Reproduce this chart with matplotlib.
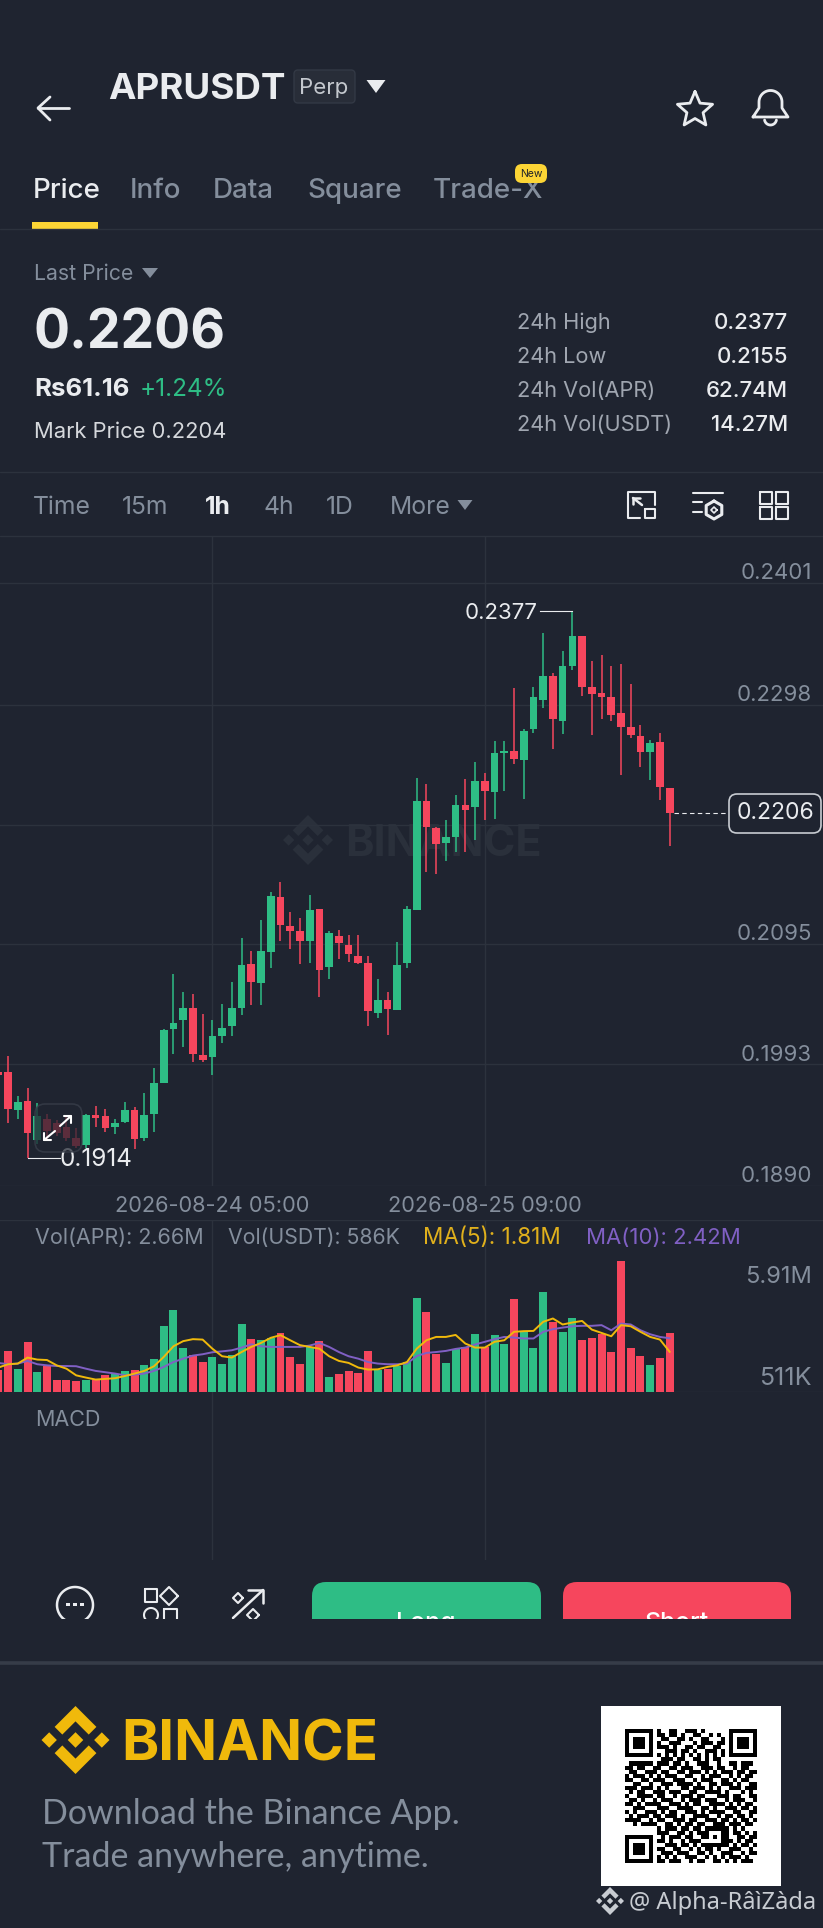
import numpy as np
import matplotlib
matplotlib.use("Agg")
import matplotlib.pyplot as plt
from matplotlib.patches import Rectangle, Polygon, FancyBboxPatch

opens = [.1987,.1987,.1954,.1962,.1929,.1947,.1943,.1940,.1931,.1925,.1950,.1949,.1940,.1944,.1954,.1931,.1951,.1977,.2023,.2031,
         .2041,.2001,.1999,.2017,.2026,.2041,.2078,.2062,.2088,.2135,.2110,.2106,.2098,.2125,.2076,.2102,.2094,.2085,.2079,.2037,
         .2048,.2039,.2079,.2124,.2216,.2193,.2181,.2186,.2213,.2211,.2233,.2224,.2257,.2259,.2251,.2277,.2302,.2322,.2284,.2331,
         .2356,.2313,.2308,.2304,.2291,.2279,.2271,.2258,.2266,.2227]
highs = [.1988,.2000,.1966,.1973,.1960,.1951,.1946,.1949,.1939,.1951,.1958,.1955,.1947,.1961,.1957,.1969,.1990,.2023,.2070,.2054,
         .2053,.2036,.2031,.2044,.2063,.2100,.2089,.2115,.2139,.2148,.2122,.2117,.2137,.2125,.2106,.2107,.2103,.2103,.2085,.2065,
         .2054,.2097,.2127,.2236,.2231,.2194,.2200,.2221,.2235,.2249,.2240,.2267,.2267,.2312,.2277,.2313,.2359,.2325,.2343,.2377,
         .2356,.2335,.2340,.2331,.2332,.2315,.2281,.2268,.2274,.2227]
lows = [.1983,.1943,.1947,.1914,.1926,.1929,.1932,.1928,.1922,.1922,.1940,.1936,.1934,.1943,.1921,.1928,.1936,.1977,.2002,.2008,
        .1995,.1995,.1984,.2011,.2017,.2035,.2043,.2043,.2075,.2098,.2091,.2078,.2079,.2050,.2065,.2082,.2080,.2078,.2026,.2032,
        .2018,.2039,.2075,.2124,.2156,.2154,.2165,.2173,.2173,.2183,.2200,.2201,.2225,.2248,.2218,.2274,.2295,.2260,.2273,.2327,
        .2305,.2272,.2286,.2284,.2238,.2270,.2245,.2234,.2217,.2178]
closes = [.1984,.1955,.1961,.1935,.1949,.1937,.1935,.1931,.1924,.1950,.1948,.1939,.1943,.1954,.1930,.1950,.1977,.2022,.2028,.2041,
          .2002,.1997,.2017,.2024,.2041,.2077,.2063,.2089,.2136,.2111,.2106,.2098,.2124,.2073,.2104,.2096,.2087,.2079,.2038,.2048,
          .2040,.2077,.2125,.2216,.2194,.2180,.2186,.2213,.2209,.2233,.2225,.2257,.2259,.2252,.2276,.2304,.2322,.2286,.2331,.2356,
          .2313,.2307,.2304,.2289,.2279,.2272,.2258,.2265,.2228,.2206]

# volume in millions
volumes = [0.98,1.85,1.05,2.24,0.92,1.17,0.56,0.56,0.51,0.53,0.56,0.75,0.80,0.95,1.01,1.23,1.50,2.96,3.68,1.98,
           1.68,1.34,1.56,1.26,1.65,3.05,2.38,2.33,2.41,2.66,1.58,1.26,2.03,2.30,0.66,0.80,0.93,0.86,1.86,0.98,
           1.05,1.17,1.35,4.23,3.61,1.73,1.31,1.94,2.03,2.63,2.03,2.57,2.18,4.18,2.71,1.97,4.50,3.16,2.68,3.31,
           2.35,2.45,2.63,1.80,5.91,1.97,1.62,1.22,1.55,2.66]
ma5 = [1.10,1.25,1.28,1.55,1.46,1.44,1.20,1.05,0.75,0.65,0.56,0.59,0.62,0.72,0.83,0.95,1.16,1.58,2.06,2.29,
       2.38,2.36,1.95,1.61,1.55,1.80,2.03,2.21,2.44,2.56,2.33,2.11,2.03,1.95,1.61,1.40,1.31,1.10,1.01,1.02,
       1.13,1.20,1.35,1.95,2.33,2.48,2.48,2.57,2.18,2.00,2.00,2.26,2.33,2.71,2.74,2.75,3.16,3.31,3.04,3.13,
       3.20,2.81,2.66,2.51,3.01,2.96,2.71,2.48,2.36,1.81]
ma10 = [1.31,1.25,1.28,1.40,1.25,1.20,1.17,1.17,1.16,1.05,0.95,0.89,0.83,0.75,0.78,0.83,0.95,1.13,1.35,1.50,
        1.64,1.70,1.79,1.83,1.88,2.00,2.15,2.06,2.03,2.03,2.03,2.03,2.09,2.21,2.03,1.80,1.61,1.50,1.35,1.28,
        1.25,1.25,1.28,1.62,1.76,1.80,1.85,1.94,2.00,2.14,2.26,2.38,2.48,2.45,2.41,2.41,2.71,2.83,2.90,2.96,
        2.98,2.98,3.01,2.78,3.08,3.04,2.78,2.60,2.48,2.42]

price_ticks = [0.2401, 0.2298, 0.2196, 0.2095, 0.1993, 0.1890]
price_tick_labels = ["0.2401", "0.2298", "", "0.2095", "0.1993", "0.1890"]
date_idx = [22, 50]
date_labels = ["2026-08-24 05:00", "2026-08-25 09:00"]
stat_names = ["24h High", "24h Low", "24h Vol(APR)", "24h Vol(USDT)"]
stat_values = ["0.2377", "0.2155", "62.74M", "14.27M"]
last_price = 0.2206
high_price = 0.2377
low_price = 0.1914

BG = "#1f2430"
GRID = "#2c323d"
GREEN = "#2ebd85"
RED = "#f6465d"
GRAY = "#848e9c"
LIGHT = "#eaecef"
YELLOW = "#f0b90b"
PURPLE = "#8060c4"
W, H = 823, 1928
plt.rcParams["font.family"] = ["Inter", "DejaVu Sans"]

fig = plt.figure(figsize=(W / 100, H / 100), dpi=100, facecolor=BG)


def pane(top, bottom):
    # axes placed by pixel rows of the screenshot
    a = fig.add_axes([0, 1 - bottom / H, 1, (bottom - top) / H], facecolor="none")
    a.set_xlim(0.17, 84.76)
    a.set_xticks(date_idx)
    a.tick_params(length=0, labelbottom=False, labelleft=False)
    a.grid(True, color=GRID, lw=1)
    a.set_axisbelow(True)
    for s in a.spines.values():
        s.set_visible(False)
    return a


back = fig.add_axes([0, 0, 1, 1], facecolor="none", zorder=0)
back.set_xlim(0, W); back.set_ylim(H, 0); back.axis("off")
ax = pane(537, 1186); ax.set_zorder(1)
vol = pane(1220, 1392); vol.set_zorder(1)
macd = pane(1392, 1560); macd.set_zorder(1)
ui = fig.add_axes([0, 0, 1, 1], facecolor="none", zorder=2)
ui.set_xlim(0, W); ui.set_ylim(H, 0); ui.axis("off")


def logo(a, cx, cy, size, color, z=3):
    s = size / 126.6
    parts = [
        [(38.73, 53.2), (63.32, 28.62), (87.92, 53.22), (102.22, 38.91), (63.32, 0), (24.43, 38.9)],
        [(0, 63.31), (14.3, 49), (28.61, 63.31), (14.3, 77.61)],
        [(38.73, 73.41), (63.32, 98), (87.92, 73.4), (102.23, 87.69), (63.33, 126.6), (24.42, 87.72)],
        [(98, 63.31), (112.3, 49), (126.61, 63.3), (112.3, 77.62)],
        [(77.83, 63.3), (63.32, 48.78), (48.81, 63.28), (63.32, 77.78)],
    ]
    for p in parts:
        pts = [(cx + (x - 63.3) * s, cy + (y - 63.3) * s) for x, y in p]
        a.add_patch(Polygon(pts, closed=True, fc=color, ec="none", zorder=z))


# watermark sits under the candles
logo(back, 308, 840, 50, "#2a303b")
back.text(345, 844, "BINANCE", fontsize=31, fontweight="bold", color="#2a303b", va="center", ha="left")

# candles
x = np.arange(len(closes))
o, h, l, c = map(np.array, (opens, highs, lows, closes))
colors = [GREEN if c[i] >= o[i] else RED for i in x]
ax.vlines(x, l, h, colors=colors, lw=1.1, zorder=3)
ax.bar(x, np.abs(c - o), bottom=np.minimum(o, c), width=0.79, color=colors, zorder=3)
ax.set_ylim(0.1890, 0.2440)
ax.set_yticks(price_ticks)
for v, s in zip(price_ticks, price_tick_labels):
    ax.annotate(s, xy=(1, v), xycoords=ax.get_yaxis_transform(), xytext=(-8, 7), textcoords="offset points",
                ha="right", va="center", fontsize=16, color=GRAY)

# high / low / last price marks
ax.plot([59 - 3.3, 59], [high_price] * 2, color=LIGHT, lw=0.8, zorder=4)
ax.annotate("0.2377", xy=(55.6, high_price), xytext=(-1, -1.5), textcoords="offset points",
            ha="right", va="center", fontsize=16, color=LIGHT, zorder=5)
ax.plot([3, 6.3], [low_price] * 2, color=LIGHT, lw=0.8, zorder=4)
ax.annotate("0.1914", xy=(6.3, low_price), xytext=(0, -1.5), textcoords="offset points",
            ha="left", va="center", fontsize=17.5, color=LIGHT, zorder=5)
ax.hlines(last_price, 69.4, 75, colors=LIGHT, lw=0.8, linestyles=(0, (4, 3)), zorder=4)

# volume
vol.bar(x, volumes, width=0.82, color=colors, zorder=3)
vol.plot(x, ma10, color=PURPLE, lw=1.4, zorder=4)
vol.plot(x, ma5, color=YELLOW, lw=1.4, zorder=5)
vol.set_ylim(0, 7.745)
vol.set_yticks([0, 7.745])
macd.set_ylim(0, 1)
macd.set_yticks([])


def T(px, py, s, size, color=GRAY, ha="left", weight="normal", **kw):
    # va=center sits a bit high because of the descender room
    return ui.text(px, py + size * 0.14, s, fontsize=size, color=color, ha=ha, va="center", fontweight=weight, **kw)


def L(xs, ys, color=LIGHT, lw=1.5, z=3):
    ui.plot(xs, ys, color=color, lw=lw, solid_capstyle="round", solid_joinstyle="round", zorder=z)


def tri(cx, top, bot, half, color):
    ui.add_patch(Polygon([(cx - half, top), (cx + half, top), (cx, bot)], fc=color, ec="none"))


def ring(cx, cy, r, t0=0, t1=360, **kw):
    t = np.radians(np.linspace(t0, t1, 60))
    L(cx + r * np.cos(t), cy - r * np.sin(t), **kw)


def box(x0, y0, x1, y1, **kw):
    L([x0, x1, x1, x0, x0], [y0, y0, y1, y1, y0], **kw)


def rbox(x0, y0, x1, y1, rad, fc, ec="none", lw=1, alpha=None, z=2):
    ui.add_patch(FancyBboxPatch((x0 + rad, y0 + rad), x1 - x0 - 2 * rad, y1 - y0 - 2 * rad,
                                boxstyle=f"round,pad={rad}", fc=fc, ec=ec, lw=lw, alpha=alpha, zorder=z))


# header
L([38, 69], [108, 108], lw=2); L([50, 38, 50], [97, 108, 120], lw=2)
T(108, 86, "APRUSDT", 26.5, LIGHT, weight="bold")
rbox(294, 70, 355, 103, 4, "#282d38", "#333945")
T(324, 86, "Perp", 16, "#c4c8ce", ha="center")
tri(376, 80, 93, 9.5, LIGHT)
ang = np.radians(90 + 36 * np.arange(11))
rad = np.where(np.arange(11) % 2 == 0, 18.5, 8.5)
L(695 + rad * np.cos(ang), 110 - rad * np.sin(ang), lw=2)
t = np.radians(np.linspace(180, 0, 30))
L(np.r_[753, 759, 770.5 + 11.5 * np.cos(t), 782, 788, 753], np.r_[117, 108, 102 - 11.5 * np.sin(t), 108, 117, 117], lw=2)
ring(770.5, 119, 6, 190, 350, lw=2)

tabs = [("Price", 33, LIGHT), ("Info", 130, GRAY), ("Data", 213, GRAY), ("Square", 307, GRAY), ("Trade-X", 433, GRAY)]
for s, px, col in tabs:
    T(px, 188, s, 20, col, weight="medium")
ui.add_patch(Rectangle((32, 222), 66, 7, fc="#fcd535", ec="none"))
rbox(515, 164, 547, 183, 7, "#fcd535", z=3)
T(531, 172.5, "New", 7.5, "#1e2329", ha="center", zorder=4)
for yy in (229, 472, 536):
    L([0, W], [yy, yy], GRID, 1, z=1)

T(34, 272, "Last Price", 15.3, GRAY)
tri(150, 268, 278, 8, GRAY)
T(34, 329, "0.2206", 38.5, LIGHT, weight="bold")
T(34, 387, "Rs61.16", 18.5, LIGHT, weight="bold")
T(140, 387, "+1.24%", 17.5, GREEN)
T(34, 430, "Mark Price 0.2204", 15.8, "#d5d8dc")
for i, yy in enumerate((321, 355, 389, 423)):
    T(517, yy, stat_names[i], 15.7, "#a0a6b0")
    T(788, yy, stat_values[i], 16, LIGHT, ha="right", weight="medium")

frames = [("Time", 33), ("15m", 122), ("1h", 205), ("4h", 264), ("1D", 326), ("More", 390)]
for s, px in frames:
    if s == "1h":
        T(px, 505, s, 17.8, LIGHT, weight="bold")
    else:
        T(px, 505, s, 17.8, GRAY)
tri(465, 500, 510, 7.5, GRAY)

# toolbar icons
L([655, 655, 628, 628, 640], [505, 492, 492, 518, 518])
box(645, 509, 655, 518)
L([642, 633], [505, 498], lw=1.8); L([633, 633, 640], [504, 498, 498], lw=1.8)
L([693, 723], [493, 493]); L([693, 702], [502, 502]); L([693, 702], [512, 512])
a6 = np.radians(90 + 60 * np.arange(7))
L(714 + 9 * np.cos(a6), 510 - 9 * np.sin(a6), lw=2.2)
a4 = np.radians(90 * np.arange(5))
L(714 + 3 * np.cos(a4), 510 - 3 * np.sin(a4), lw=1.2)
for bx in (760, 776):
    for by in (492, 507):
        box(bx, by, bx + 12, by + 12)

# pane texts
for i, s in zip(date_idx, date_labels):
    px = 669.7 - 9.73 * (69 - i)
    T(px, 1204, s, 15.7, GRAY, ha="center")
T(35, 1236, "Vol(APR): 2.66M", 15.5)
T(228, 1236, "Vol(USDT): 586K", 15.3)
T(423, 1236, "MA(5): 1.81M", 16.2, "#e0b01c")
T(586, 1236, "MA(10): 2.42M", 15.9, PURPLE)
T(812, 1275, "5.91M", 17, ha="right")
T(812, 1376, "511K", 18, ha="right")
T(35, 1418, "MACD", 15.5)

# last price tag and chart expander
rbox(729, 794, 821, 833, 8, BG, "#c8ccd2", 1.2)
T(775.5, 811, "0.2206", 16.5, LIGHT, ha="center", zorder=4)
rbox(35, 1104, 82, 1152, 10, BG, "#3a404c", 1.2, alpha=0.72)
for (x0, y0, x1, y1) in [(44, 1140, 55, 1131), (60, 1126, 71, 1116)]:
    L([x0, x1], [y0, y1], "white", 1.5, z=4)
L([44, 44, 51], [1133, 1140, 1140], "white", 1.5, z=4)
L([64, 71, 71], [1116, 1116, 1123], "white", 1.5, z=4)

# action bar, cut off by the footer band
ring(75, 1605, 18, -65, 245, lw=1.8)
for px in (68, 75, 82):
    ui.add_patch(Rectangle((px - 1.7, 1603), 3.4, 3.4, fc=LIGHT, ec="none"))
box(145, 1589, 157, 1602)
dm = np.radians(90 * np.arange(5))
L(169 + 9 * np.cos(dm), 1596 - 9 * np.sin(dm))
ring(151, 1615, 7)
box(164, 1609, 177, 1630)
L([233, 263], [1618, 1590], lw=1.8); L([248, 263, 263], [1590, 1590, 1603], lw=1.8)
L(238 + 5 * np.cos(dm), 1598 - 5 * np.sin(dm)); L(253 + 6 * np.cos(dm), 1615 - 6 * np.sin(dm))
rbox(312, 1582, 541, 1640, 14, GREEN)
rbox(563, 1582, 791, 1640, 14, RED)
T(426, 1621, "Long", 18, "white", ha="center", weight="medium", zorder=4)
T(677, 1621, "Short", 18, "white", ha="center", weight="medium", zorder=4)
ui.add_patch(Rectangle((0, 1619), W, 42, fc=BG, ec="none", zorder=6))
L([0, W], [1663, 1663], "#363c48", 2.6, z=7)

# footer
logo(ui, 75.5, 1740, 68, YELLOW)
T(121, 1740, "BINANCE", 40.5, YELLOW, weight="bold")
T(42, 1811, "Download the Binance App.", 24.5, GRAY, family="Lato")
T(42, 1854, "Trade anywhere, anytime.", 24.5, GRAY, family="Lato")
ui.add_patch(Rectangle((601, 1706), 180, 180, fc="white", ec="none"))

qr_rows = [
    "000000001001100111010000000000000", "000000001101101001100101000000000", "000000000110011010011000100000000",
    "000000001001110001011101100000000", "000000001110100110110011000000000", "000000000011101101001110100000000",
    "000000001010101010101010100000000", "000000000111011001101011000000000", "011111101110110100111001001101110",
    "110110011001101110011101100101100", "011001110110011011101010111011011", "101110101011100110010111001010110",
    "110011011100111001011100110101100", "001100100111011110100110111010011", "111011101010001101110101001110111",
    "010110011101110011001111010001010", "100111101100101110110001110110011", "011010010111001011101110010111001",
    "110101111001110101100111101010110", "001110001110011110011010011101101", "101001110101100111010111100110011",
    "010111011011101001111001011011010", "111100101100111011001110110101101", "001011110011010110110011101110110",
    "000000001011101101101111110101000", "000000001110011010111000110110101", "000000000101110110011010110011011",
    "000000001101001011100000111010110", "000000000011101101011111110101101", "000000001100110010101101001110010",
    "000000000111011100110100111001011", "000000001010100111001010101110100", "000000001101110010110011010101110",
]
qr = np.array([[int(ch) for ch in r] for r in qr_rows])
for fy, fx in [(0, 0), (0, 26), (26, 0)]:
    qr[fy:fy + 7, fx:fx + 7] = 1
    qr[fy + 1:fy + 6, fx + 1:fx + 6] = 0
    qr[fy + 2:fy + 5, fx + 2:fx + 5] = 1
ui.imshow(1 - qr, cmap="gray", vmin=0, vmax=1, extent=(625, 757, 1863, 1729), aspect="auto",
          interpolation="nearest", zorder=3)
ui.set_xlim(0, W); ui.set_ylim(H, 0)

logo(ui, 610, 1901, 28, "#c8ccd2")
T(629, 1901, "@ Alpha-RâìZàda", 17, "#c8ccd2", family="Noto Sans")

fig.savefig("out.png", dpi=100, facecolor=BG)
